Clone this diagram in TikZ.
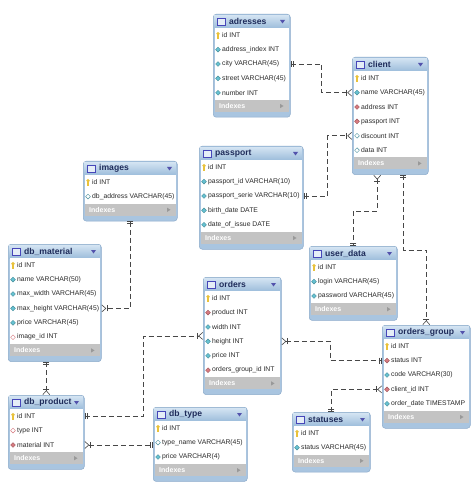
\documentclass[tikz,border=0pt]{standalone}
\usepackage{fontspec}
\setmainfont{Liberation Sans}
\usetikzlibrary{arrows.meta,shapes.geometric}
\definecolor{frame}{HTML}{A9C5E0}
\definecolor{framedark}{HTML}{8CABCB}
\definecolor{headtop}{HTML}{D3E3F2}
\definecolor{headbot}{HTML}{9DBDDB}
\definecolor{titletxt}{HTML}{1E2B5A}
\definecolor{rowtxt}{HTML}{2A2A2A}
\definecolor{idxbar}{HTML}{C3C3C3}
\definecolor{keygold}{HTML}{E9C23B}
\definecolor{colcyan}{HTML}{66C2D2}
\definecolor{fkred}{HTML}{D77A80}
\definecolor{linkgray}{HTML}{474747}
\tikzstyle{tablebox}=[draw=framedark,fill=frame,rounded corners=3pt,inner sep=0pt,line width=0.5pt]
\tikzstyle{title}=[anchor=west,inner sep=0pt,font=\fontsize{8.6}{9}\selectfont\bfseries,text=titletxt]
\tikzstyle{field}=[anchor=west,inner sep=0pt,font=\fontsize{6.8}{7}\selectfont,text=rowtxt]
\tikzstyle{indexes}=[anchor=west,inner sep=0pt,font=\fontsize{7}{8}\selectfont\bfseries,text=white]
\tikzstyle{link}=[draw=linkgray,line width=0.6pt,dash pattern=on 5pt off 3pt]
\tikzstyle{icon}=[diamond,inner sep=0pt,minimum size=5pt,line width=0.4pt]
\tikzstyle{pk}=[rectangle,inner sep=0pt,minimum width=4pt,minimum height=7pt,
  path picture={\fill[keygold] ([yshift=-2pt]path picture bounding box.north) circle (1.8pt);
    \fill[keygold] ([xshift=-0.6pt,yshift=-2pt]path picture bounding box.north) rectangle ([xshift=0.6pt]path picture bounding box.south);}]
\tikzstyle{col}=[icon,fill=colcyan,draw=colcyan!75!black]
\tikzstyle{fk}=[icon,fill=fkred,draw=fkred!75!black]
\tikzstyle{nul}=[icon,fill=white,draw=colcyan!75!black]
\tikzstyle{nulfk}=[icon,fill=white,draw=fkred]
\tikzset{
  one/.tip={Bar[width=6pt,sep=1.5pt]Bar[width=6pt]},
  many/.tip={Bar[width=6pt,sep=1pt]Straight Barb[reversed,length=4pt,width=7pt]}
}
% name, top left, width, title, rows (icon/text)
\newcommand{\dbtable}[5]{%
  \foreach \ic/\txt [count=\i] in {#5} {\xdef\nrows{\i}}
  \pgfmathsetmacro{\boxh}{31+14.4*\nrows}
  \pgfmathsetmacro{\rowend}{14+14.4*\nrows}
  \begin{scope}[shift={#2}]
    \node[tablebox,minimum width=#3pt,minimum height=\boxh pt,anchor=north west] (#1) at (0,0) {};
    \shade[top color=headtop,bottom color=headbot] (1.2,1.2) rectangle ({#3-1.2},14);
    \filldraw[fill=headtop!60!white,draw=blue!45!gray,line width=0.5pt] (4.5,4) rectangle (12.5,11);
    \node[title] (#1-head) at (16,7.5) {#4};
    \fill[blue!35!gray] ({#3-10},6) -- ({#3-5},6) -- ({#3-7.5},9.5) -- cycle;
    \fill[white] (1.5,14) rectangle ({#3-1.5},\rowend);
    \foreach \ic/\txt [count=\i] in {#5} {
      \pgfmathsetmacro{\ry}{21.2+14.4*(\i-1)}
      \node[\ic] at (5,\ry) {};
      \node[field] (#1-\i) at (9,\ry) {\txt};
    }
    \fill[idxbar] (1.5,\rowend) rectangle ({#3-1.5},\rowend+12);
    \node[indexes] (#1-idx) at (6,\rowend+6) {Indexes};
    \fill[gray!80] ({#3-10},\rowend+3.8) -- ({#3-10},\rowend+8.2) -- ({#3-6.5},\rowend+6) -- cycle;
  \end{scope}
}

\begin{document}
\begin{tikzpicture}[x=1pt,y=-1pt]
    \path[use as bounding box,fill=white] (0,0) rectangle (474,486);
    \dbtable{adresses}{(213,14)}{77}{adresses}{pk/id INT, col/address\_index INT, col/city VARCHAR(45), col/street VARCHAR(45), col/number INT}
    \dbtable{client}{(352,57)}{76}{client}{pk/id INT, col/name VARCHAR(45), fk/address INT, fk/passport INT, nul/discount INT, nul/data INT}
    \dbtable{passport}{(199,146)}{104}{passport}{pk/id INT, col/passport\_id VARCHAR(10), col/passport\_serie VARCHAR(10), col/birth\_date DATE, col/date\_of\_issue DATE}
    \dbtable{images}{(83,161)}{94}{images}{pk/id INT, nul/db\_address VARCHAR(45)}
    \dbtable{dbmaterial}{(8,244)}{93}{db\_material}{pk/id INT, col/name VARCHAR(50), col/max\_width VARCHAR(45), col/max\_height VARCHAR(45), col/price VARCHAR(45), nulfk/image\_id INT}
    \dbtable{orders}{(203,277)}{78}{orders}{pk/id INT, fk/product INT, col/width INT, col/height INT, col/price INT, fk/orders\_group\_id INT}
    \dbtable{userdata}{(309,246)}{88}{user\_data}{pk/id INT, col/login VARCHAR(45), col/password VARCHAR(45)}
    \dbtable{ordersgroup}{(382,325)}{88}{orders\_group}{pk/id INT, fk/status INT, col/code VARCHAR(30), fk/client\_id INT, col/order\_date TIMESTAMP}
    \dbtable{dbproduct}{(8,395)}{76}{db\_product}{pk/id INT, nulfk/type INT, fk/material INT}
    \dbtable{dbtype}{(153,407)}{94}{db\_type}{pk/id INT, nul/type\_name VARCHAR(45), col/price VARCHAR(4)}
    \dbtable{statuses}{(292,412)}{78}{statuses}{pk/id INT, col/status VARCHAR(45)}
    \path[link,one-many] (adresses.east |- adresses-3) -- ++(31,0) |- (client.west |- client-2);
    \path[link,one-many] (passport.east |- passport-3) -- ++(24,0) |- (client.west |- client-5);
    \path[link,many-one] ([xshift=-13pt]client.south) -- ++(0,36) -| (userdata.north);
    \path[link,one-many] ([xshift=13pt]client.south) -- ++(0,75) -| (ordersgroup.north);
    \path[link,one-many] (images.south) |- (dbmaterial.east |- dbmaterial-4);
    \path[link,one-many] (dbmaterial.south -| dbproduct.north) -- (dbproduct.north);
    \path[link,one-many] (dbproduct.east |- dbproduct-1) -- ++(59,0) |- (orders.west);
    \path[link,many-one] (dbproduct.east |- dbproduct-3) -- (dbtype.west |- dbproduct-3);
    \path[link,many-one] (orders.east |- orders-4) -- ++(49,0) |- (ordersgroup.west |- ordersgroup-2);
    \path[link,one-many] (statuses.north) |- (ordersgroup.west |- ordersgroup-4);
\end{tikzpicture}
\end{document}
